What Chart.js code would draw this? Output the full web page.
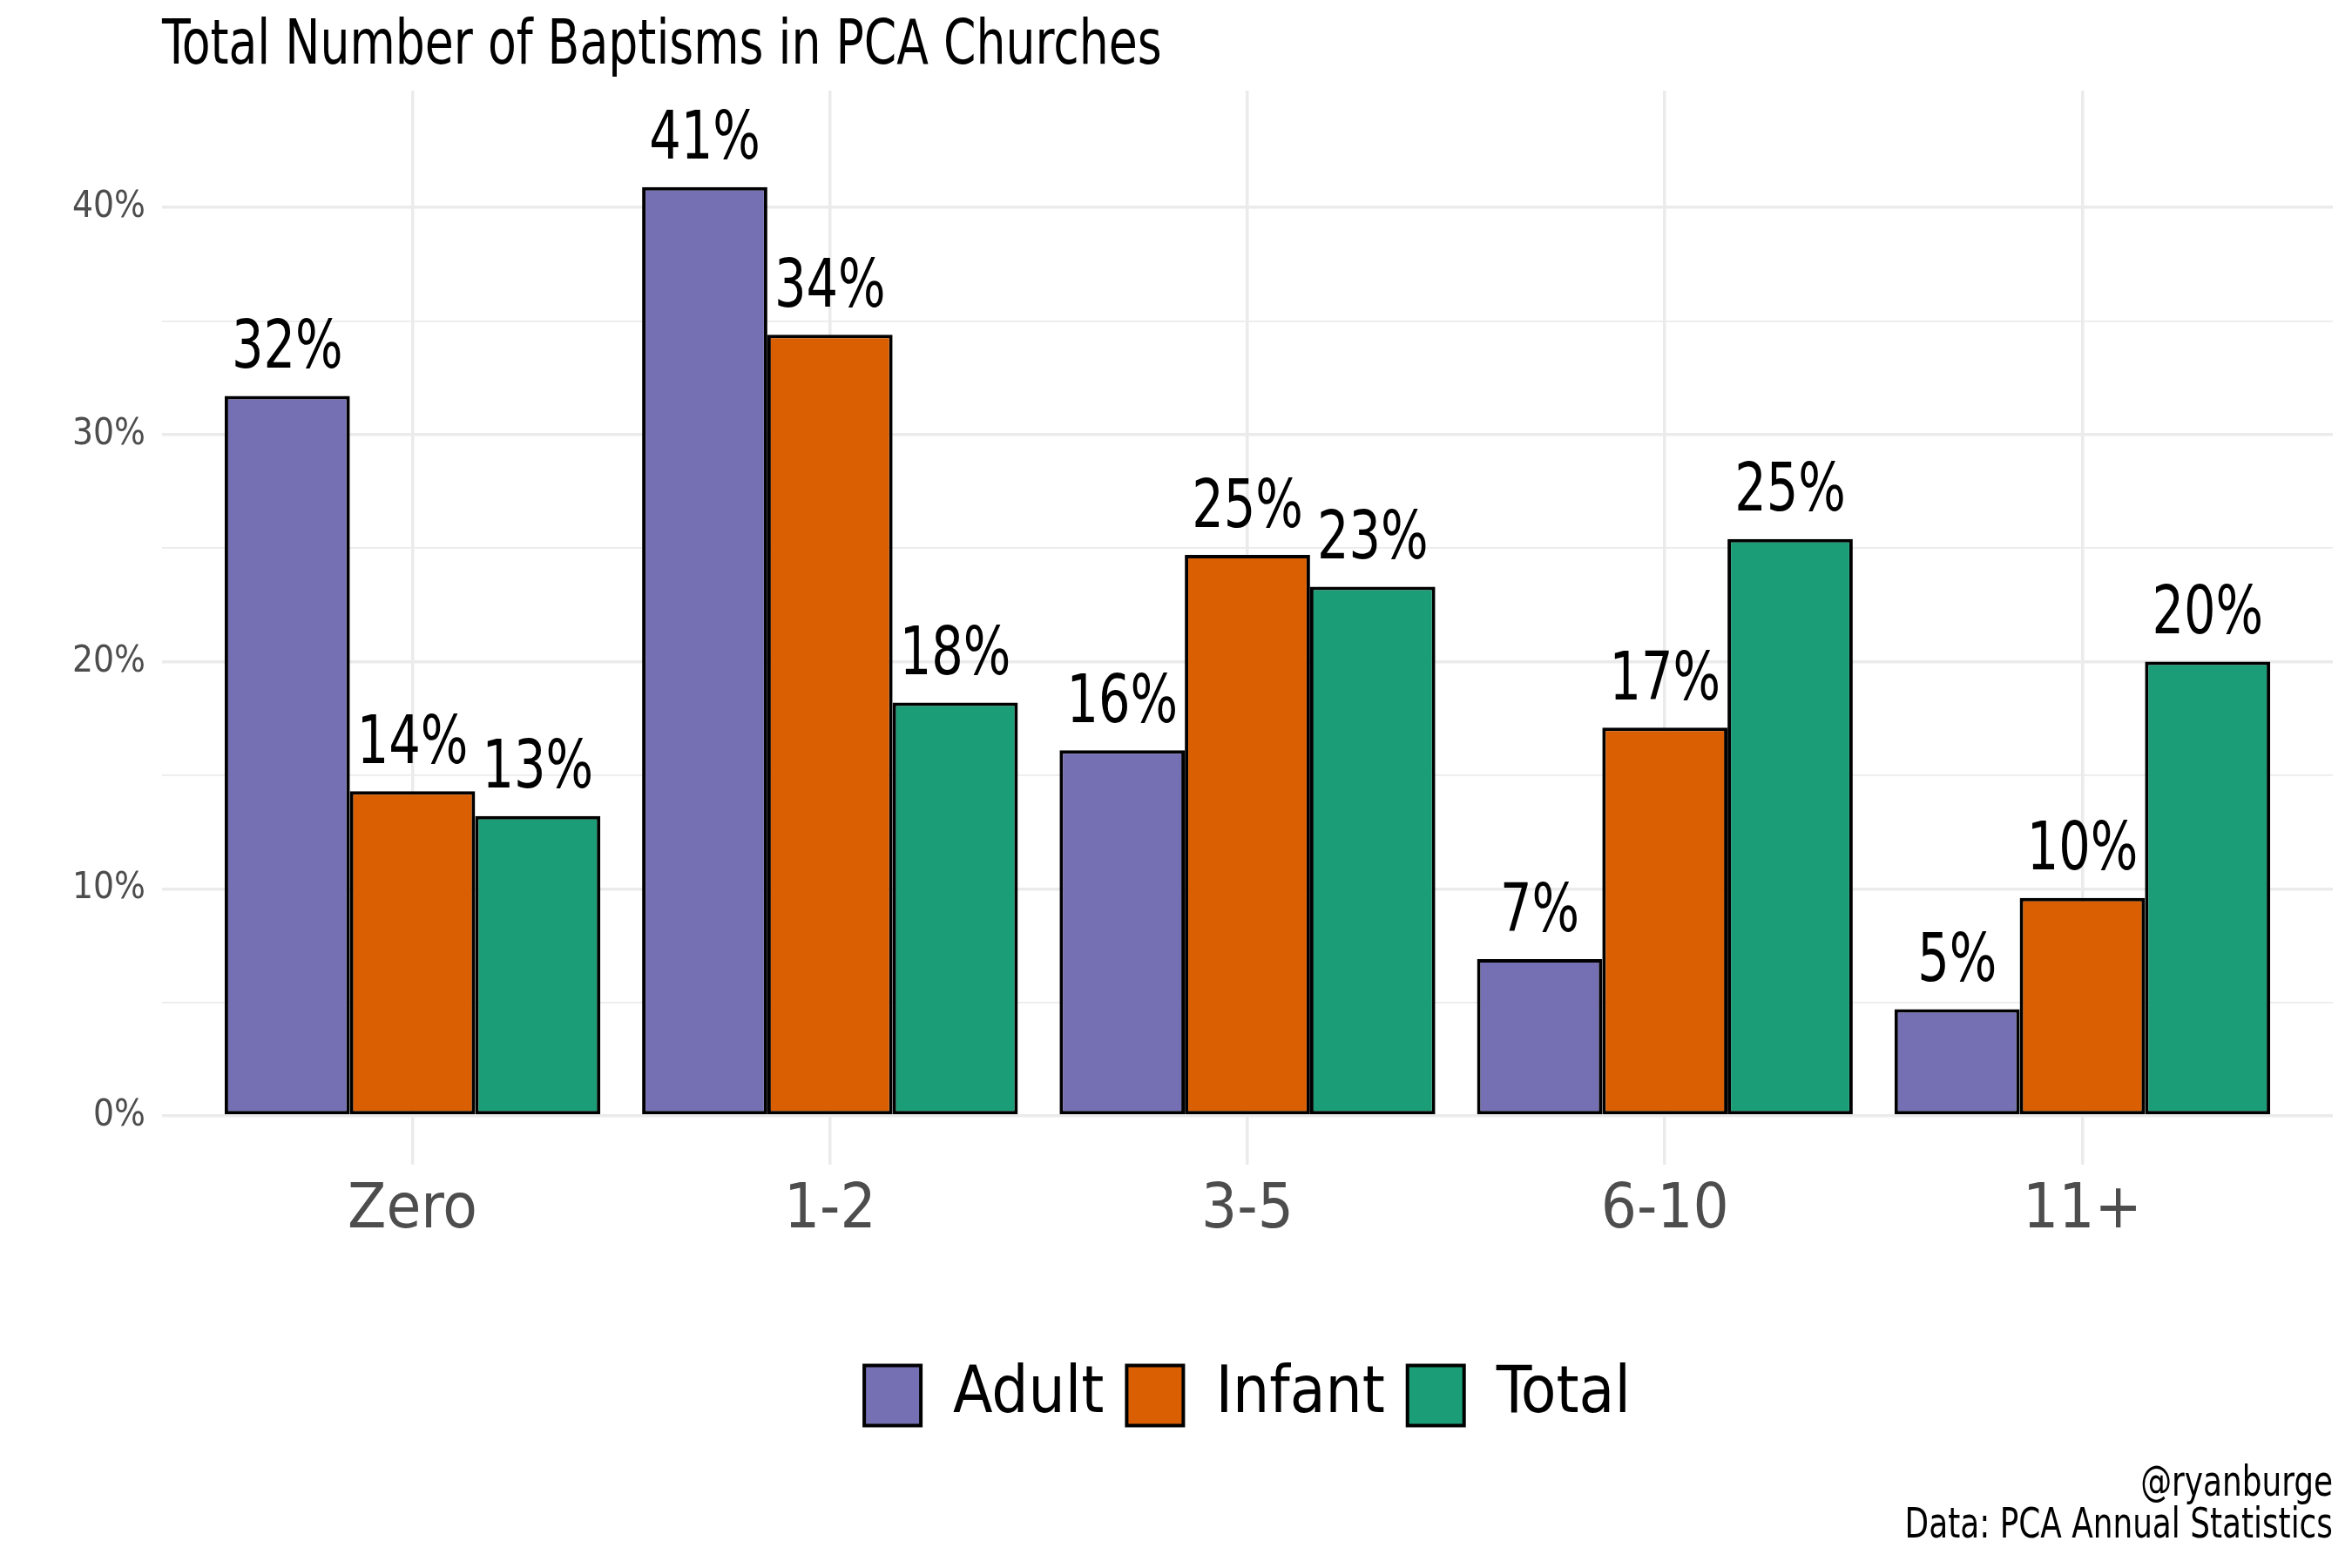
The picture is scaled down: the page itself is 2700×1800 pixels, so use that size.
<!DOCTYPE html>
<html>
<head>
<meta charset="utf-8">
<script src="https://cdn.jsdelivr.net/npm/chart.js@4.4.1/dist/chart.umd.min.js"></script>
<style>
  html, body { margin: 0; padding: 0; background: #fff; }
  #wrap { width: 2700px; height: 1800px; }
</style>
</head>
<body>
<div id="wrap"><canvas id="c" width="2700" height="1800"></canvas></div>
<script>
  // ---- data ----
  const categories = ["Zero", "1-2", "3-5", "6-10", "11+"];
  const adult = [31.7, 40.9, 16.1, 6.9, 4.7];
  const infant = [14.3, 34.4, 24.7, 17.1, 9.6];
  const total = [13.2, 18.2, 23.3, 25.4, 20.0];
  const seriesNames = ["Adult", "Infant", "Total"];
  const seriesColors = ["#7570b3", "#d95f02", "#1b9e77"];
  const yBreaks = [0, 5, 10, 15, 20, 25, 30, 35, 40];
  const titleText = "Total Number of Baptisms in PCA Churches";
  const captionLines = ["@ryanburge", "Data: PCA Annual Statistics"];

  const FONT = "'Liberation Sans Narrow', 'DejaVu Sans Condensed', 'Liberation Sans', sans-serif";
  Chart.defaults.font.family = FONT;

  const toPoints = (arr) => arr.map((v, i) => ({ x: i + 1, y: v }));

  function dataset(label, values, color) {
    return {
      label, data: toPoints(values),
      backgroundColor: color, borderColor: "#000", borderWidth: 4,
      borderSkipped: false, barPercentage: 1, categoryPercentage: 0.9,
    };
  }

  // text squeezed horizontally to get the narrow look of the original
  function narrowText(ctx, text, x, y, sx) {
    ctx.save();
    ctx.translate(x, y);
    ctx.scale(sx, 1);
    ctx.fillText(text, 0, 0);
    ctx.restore();
  }

  // labels above bars, title and caption
  const annotate = {
    id: "annotate",
    afterLayout(chart) {
      // centre the legend under the panel, as ggplot does
      const lg = chart.legend;
      if (lg) { lg.left = chart.chartArea.left; lg.right = chart.chartArea.right; }
    },
    afterDatasetsDraw(chart) {
      const { ctx, scales: { y } } = chart;
      ctx.save();
      ctx.fillStyle = "#000";
      ctx.font = `76px ${FONT}`;
      ctx.textAlign = "center";
      ctx.textBaseline = "middle";
      chart.data.datasets.forEach((ds, di) => {
        chart.getDatasetMeta(di).data.forEach((bar, i) => {
          const v = ds.data[i].y;
          narrowText(ctx, Math.round(v) + "%", bar.x, y.getPixelForValue(v + 2), 0.84);
        });
      });
      ctx.restore();
    },
    afterDraw(chart) {
      const { ctx, chartArea } = chart;
      ctx.save();
      ctx.fillStyle = "#000";
      ctx.font = `71px ${FONT}`;
      ctx.textAlign = "left";
      ctx.textBaseline = "alphabetic";
      narrowText(ctx, titleText, chartArea.left, 73, 0.84);
      ctx.font = `48px ${FONT}`;
      ctx.textAlign = "right";
      ctx.textBaseline = "middle";
      narrowText(ctx, captionLines[0], chartArea.right, 1705, 0.83);
      narrowText(ctx, captionLines[1], chartArea.right, 1753, 0.83);
      ctx.restore();
    },
  };

  new Chart(document.getElementById("c"), {
    type: "bar",
    data: {
      datasets: [
        dataset(seriesNames[0], adult, seriesColors[0]),
        dataset(seriesNames[1], infant, seriesColors[1]),
        dataset(seriesNames[2], total, seriesColors[2]),
      ],
    },
    options: {
      responsive: false,
      animation: false,
      layout: { padding: { top: 104, right: 22, bottom: 151, left: 0 } },
      plugins: {
        legend: {
          position: "bottom",
          labels: { color: "#000", font: { size: 74 }, boxWidth: 65, boxHeight: 69, padding: 26 },
        },
        tooltip: { enabled: false },
      },
      scales: {
        x: {
          type: "linear", min: 0.4, max: 5.6, offset: false,
          afterBuildTicks: (axis) => { axis.ticks = categories.map((c, i) => ({ value: i + 1 })); },
          afterFit: (axis) => { axis.height = 202; },
          grid: { color: "#ebebeb", lineWidth: 3.5, drawTicks: false, offset: false },
          border: { display: false },
          ticks: {
            color: "#4d4d4d", font: { size: 72 }, padding: 10, maxRotation: 0,
            callback: (v) => categories[v - 1],
          },
        },
        y: {
          min: -2.15, max: 45.15,
          afterBuildTicks: (axis) => { axis.ticks = yBreaks.map((v) => ({ value: v })); },
          afterFit: (axis) => { axis.width = 186; },
          grid: {
            color: "#ebebeb", drawTicks: false,
            lineWidth: (c) => (c.tick && c.tick.value % 10 === 0 ? 3.5 : 1.8),
          },
          border: { display: false },
          ticks: {
            color: "#4d4d4d", font: { size: 42 }, padding: 19,
            callback: (v) => (v % 10 === 0 ? v + "%" : ""),
          },
        },
      },
    },
    plugins: [annotate],
  });
</script>
</body>
</html>
